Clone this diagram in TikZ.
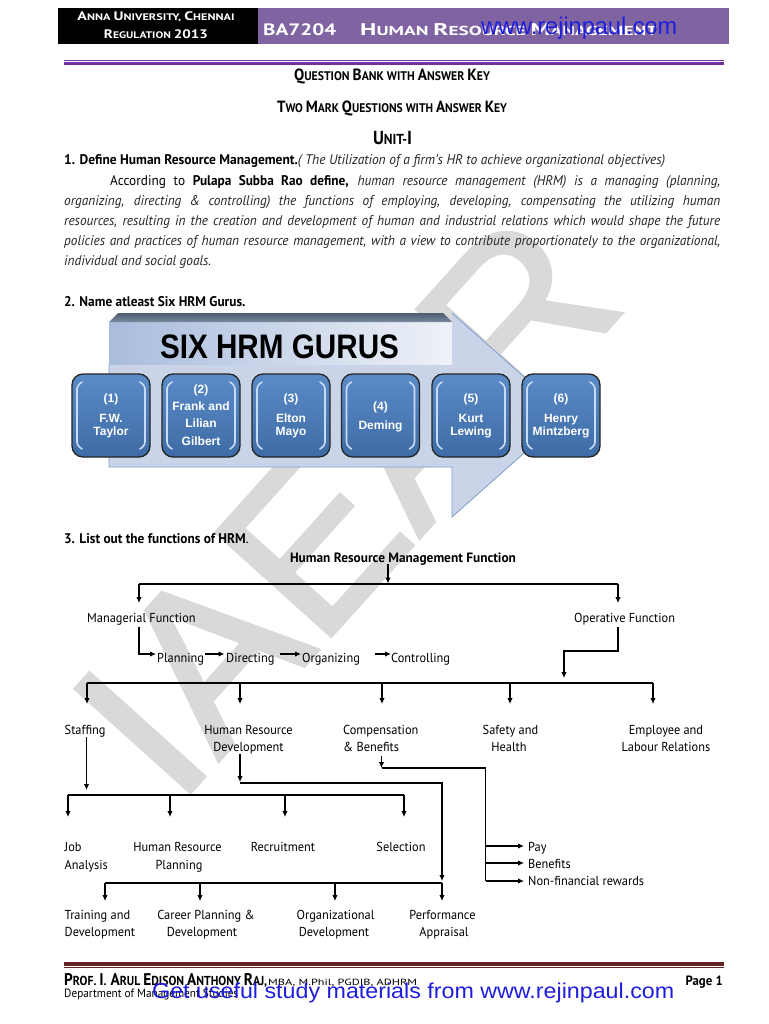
\documentclass[tikz,border=0pt]{standalone}
\usepackage{fontspec}
\usepackage{graphicx}
\setmainfont[FakeStretch=0.95]{PT Sans}
\newfontfamily\arialf{Liberation Sans}
\newfontfamily\wmf[FakeBold=1.6]{Liberation Sans}
\usetikzlibrary{arrows.meta}
\definecolor{hdrpurple}{HTML}{8064A2}
\definecolor{linepurple}{HTML}{7030A0}
\definecolor{footmaroon}{HTML}{632423}
\definecolor{wmgray}{HTML}{D9D9D9}
\definecolor{linkblue}{HTML}{1E1EDC}
\definecolor{arrowfill}{HTML}{C9D4E8}
\definecolor{arrowedge}{HTML}{7F9CCB}
\definecolor{bannerl}{HTML}{A9BCDC}
\definecolor{bannerr}{HTML}{EEF2F8}
\definecolor{bevelt}{HTML}{4E5C70}
\definecolor{bevelb}{HTML}{7A899E}
\definecolor{boxtop}{HTML}{5A8BC8}
\definecolor{boxbot}{HTML}{3E6BA5}
\definecolor{boxhl}{HTML}{C9DCF3}
\definecolor{italgray}{HTML}{262626}
\newcommand\fitw[2]{\resizebox{#1}{\height}{#2}}
\newcommand\BC[1]{\scalebox{1.3}{#1}}
\tikzset{
  txt/.style={inner sep=0pt, anchor=base west},
  txtc/.style={inner sep=0pt, anchor=base},
  body/.style={font=\fontsize{14}{14}\selectfont},
  dl/.style={inner sep=0pt, anchor=base west, font=\fontsize{13}{13}\selectfont},
  dlc/.style={inner sep=0pt, anchor=base, font=\fontsize{13}{13}\selectfont},
  conn/.style={line width=1.1pt, black},
  arr/.style={conn, -{Latex[length=6pt,width=5.5pt]}},
  gurubox/.style={draw=black!85, line width=1.3pt, rounded corners=11pt,
    minimum width=78pt, minimum height=83pt, top color=boxtop, bottom color=boxbot, inner sep=0pt},
  gtxt/.style={inner sep=0pt, anchor=base, text=white, font=\arialf\bfseries\fontsize{12}{12}\selectfont},
  hl/.style={boxhl, line width=1.6pt, rounded corners=3pt, line cap=round},
  wm/.style={inner sep=0pt, text=wmgray, font=\wmf\fontsize{225}{225}\selectfont},
}
\begin{document}
\begin{tikzpicture}[x=1pt,y=-1pt]
\useasboundingbox (0,0) rectangle (768,1024);
\fill[white] (0,0) rectangle (768,1024);

% watermark
\node[wm, rotate=48] (wmark) at (345,505) {IAEAR};

% header
\fill[black] (58,8) rectangle (258,44);
\fill[hdrpurple] (258,8) rectangle (729,44);
\node[txtc, text=white, font=\bfseries\fontsize{9.5}{9.5}\selectfont] (au) at (156,21)
  {\fitw{157pt}{\BC{A}NNA \BC{U}NIVERSITY, \BC{C}HENNAI}};
\node[txtc, text=white, font=\bfseries\fontsize{9.5}{9.5}\selectfont] (reg) at (156,39)
  {\fitw{104pt}{\BC{R}EGULATION \BC{2013}}};
\node[txt, text=white, font=\bfseries\fontsize{16.5}{16.5}\selectfont] (code) at (263,36)
  {\fitw{73pt}{BA7204}};
\node[txt, text=white, font=\bfseries\fontsize{13}{13}\selectfont] (hrmt) at (360,36)
  {\fitw{297pt}{\BC{H}UMAN \BC{R}ESOURCE \BC{M}ANAGEMENT}};
\node[txt, text=linkblue, font=\arialf\fontsize{24}{24}\selectfont] (link1) at (481,35)
  {\fitw{196pt}{www.rejinpaul.com}};
\fill[linepurple] (64,61.8) rectangle (724,65.5);
\draw[linepurple, line width=0.8pt] (64,60.2) -- (724,60.2);

% titles
\node[txtc, font=\bfseries\fontsize{12.5}{12.5}\selectfont] (t1) at (392,81)
  {\fitw{196pt}{\BC{Q}UESTION \BC{B}ANK WITH \BC{A}NSWER \BC{K}EY}};
\node[txtc, font=\bfseries\fontsize{12.5}{12.5}\selectfont] (t2) at (392,113)
  {\fitw{230pt}{\BC{T}WO \BC{M}ARK \BC{Q}UESTIONS WITH \BC{A}NSWER \BC{K}EY}};
\node[txtc, font=\bfseries\fontsize{14.5}{14.5}\selectfont] (t3) at (392.5,145)
  {\fitw{39pt}{\BC{U}NIT-\BC{I}}};

% question 1
\node[txt, body] (q1) at (64,164.5)
  {\fitw{601pt}{\textbf{1. Define Human Resource Management.}\textcolor{italgray}{\textit{( The Utilization of a firm's HR to achieve organizational objectives)}}}};
\node[txt, body] (p1) at (110,185.5)
  {\makebox[610pt][s]{According to \textbf{Pulapa Subba Rao define,} \textcolor{italgray}{\textit{human resource management (HRM) is a managing (planning,}}}};
\node[txt, body, text=italgray] (p2) at (64,205.5)
  {\makebox[656pt][s]{\textit{organizing, directing \& controlling) the functions of employing, developing, compensating the utilizing human}}};
\node[txt, body, text=italgray] (p3) at (64,225.3)
  {\makebox[656pt][s]{\textit{resources, resulting in the creation and development of human and industrial relations which would shape the future}}};
\node[txt, body, text=italgray] (p4) at (64,245.2)
  {\makebox[656pt][s]{\textit{policies and practices of human resource management, with a view to contribute proportionately to the organizational,}}};
\node[txt, body, text=italgray] (p5) at (64,265)
  {\textit{individual and social goals.}};

% question 2
\node[txt, body] (q2) at (64,306) {\textbf{2. Name atleast Six HRM Gurus.}};

% big arrow
\fill[arrowfill] (109,322) -- (452,322) -- (452,313) -- (567,415) -- (452,517) -- (452,467) -- (109,467) -- cycle;
\draw[arrowedge, line width=0.8pt] (452,313) -- (567,415) -- (452,517) -- (452,467) -- (109,467) -- (109,364);
\shade[left color=bannerl, right color=bannerr] (109,322) rectangle (452,364);
\shade[top color=bevelt, bottom color=bevelb] (109,322) -- (118,313) -- (443,313) -- (452,322) -- cycle;
\node[txtc, font=\arialf\bfseries\fontsize{34}{34}\selectfont] (six) at (279.5,358) {\fitw{239pt}{SIX HRM GURUS}};

\foreach \cx/\nm in {111/g1, 201/g2, 291/g3, 380.5/g4, 471/g5, 561/g6}{
  \node[gurubox] (\nm) at (\cx,415.5) {};
  \draw[hl] (\cx-29,382) -- (\cx-34,386) -- (\cx-34,445) -- (\cx-29,449);
  \draw[hl] (\cx+29,382) -- (\cx+34,386) -- (\cx+34,445) -- (\cx+29,449);
}
\node[gtxt] (g1a) at (111,402) {(1)};
\node[gtxt] (g1b) at (111,422.3) {F.W.};
\node[gtxt] (g1c) at (111,435.3) {Taylor};
\node[gtxt] (g2a) at (201,393) {(2)};
\node[gtxt] (g2b) at (201,410.3) {Frank and};
\node[gtxt] (g2c) at (201,427.8) {Lilian};
\node[gtxt] (g2d) at (201,445.8) {Gilbert};
\node[gtxt] (g3a) at (291,402) {(3)};
\node[gtxt] (g3b) at (291,422.3) {Elton};
\node[gtxt] (g3c) at (291,435.3) {Mayo};
\node[gtxt] (g4a) at (380.5,410.3) {(4)};
\node[gtxt] (g4b) at (380.5,429.3) {Deming};
\node[gtxt] (g5a) at (471,402) {(5)};
\node[gtxt] (g5b) at (471,422.3) {Kurt};
\node[gtxt] (g5c) at (471,435.3) {Lewing};
\node[gtxt] (g6a) at (561,402) {(6)};
\node[gtxt] (g6b) at (561,422.3) {Henry};
\node[gtxt] (g6c) at (561,435.3) {Mintzberg};

% question 3
\node[txt, body] (q3) at (64,543) {\textbf{3. List out the functions of HRM}.};
\node[txtc, font=\bfseries\fontsize{13.5}{13.5}\selectfont] (hrmf) at (403,562)
  {\fitw{226pt}{Human Resource Management Function}};

\node[dl] (mgr) at (87,622) {Managerial Function};
\node[dl] (opf) at (574,622) {Operative Function};
\node[dl] (plan) at (157,662) {Planning};
\node[dl] (dir) at (226,662) {Directing};
\node[dl] (org) at (302,662) {Organizing};
\node[dl] (ctl) at (391,662) {Controlling};

\node[dl] (stf) at (64.5,734) {Staffing};
\node[dlc] (hrd1) at (248.5,734) {Human Resource};
\node[dlc] (hrd2) at (248.5,751) {Development};
\node[dl] (cmp1) at (343,734) {Compensation};
\node[dl] (cmp2) at (343,751) {\& Benefits};
\node[dlc] (sfh1) at (510.5,734) {Safety and};
\node[dlc] (sfh2) at (509,751) {Health};
\node[dlc] (elr1) at (666,734) {Employee and};
\node[dlc] (elr2) at (666,751) {Labour Relations};

\node[dl] (job1) at (64.5,851) {Job};
\node[dl] (job2) at (64.5,869) {Analysis};
\node[dlc] (hrp1) at (177.5,851) {Human Resource};
\node[dlc] (hrp2) at (179,869) {Planning};
\node[dlc] (rec) at (283,851) {Recruitment};
\node[dlc] (sel) at (401,851) {Selection};

\node[dl] (trd1) at (64.5,919) {Training and};
\node[dl] (trd2) at (64.5,936) {Development};
\node[dlc] (cpd1) at (206,919) {Career Planning \&};
\node[dlc] (cpd2) at (202,936) {Development};
\node[dlc] (ord1) at (335.5,919) {Organizational};
\node[dlc] (ord2) at (334,936) {Development};
\node[dlc] (pfa1) at (442.5,919) {Performance};
\node[dlc] (pfa2) at (444,936) {Appraisal};

\node[dl] (pay) at (528,851) {Pay};
\node[dl] (ben) at (528,868) {Benefits};
\node[dl] (nfr) at (528,885) {Non-financial rewards};

% connectors: top level
\coordinate (a0) at (388,564);
\coordinate (a1) at (388,583.5);
\coordinate (aL) at (139,584);
\coordinate (aR) at (618,584);
\coordinate (aLd) at (139,603);
\coordinate (aRd) at (618,603);
\draw[arr] (a0) -- (a1);
\draw[conn] (aL) -- (aR);
\draw[arr] (aL) -- (aLd);
\draw[arr] (aR) -- (aRd);

% managerial chain
\coordinate (m0) at (139,627);
\coordinate (m1) at (139,654);
\coordinate (m2) at (156,654);
\coordinate (m3) at (205,654);
\coordinate (m4) at (224.5,654);
\coordinate (m5) at (280,654);
\coordinate (m6) at (301,654);
\coordinate (m7) at (375,654);
\coordinate (m8) at (391,654);
\draw[arr] (m0) -- (m1) -- (m2);
\draw[arr] (m3) -- (m4);
\draw[arr] (m5) -- (m6);
\draw[arr] (m7) -- (m8);

% operative
\coordinate (o0) at (618,627);
\coordinate (o1) at (618,651);
\coordinate (o2) at (564,651);
\coordinate (o3) at (564,678);
\draw[arr] (o0) -- (o1) -- (o2) -- (o3);
\coordinate (b0) at (87,683);
\coordinate (b4) at (653,683);
\draw[conn] (b0) -- (b4);
\foreach \bx/\bn in {87/d0, 240/d1, 382/d2, 510/d3, 653/d4}{
  \coordinate (\bn s) at (\bx,683);
  \coordinate (\bn e) at (\bx,704);
  \draw[arr] (\bn s) -- (\bn e);
}

% staffing
\coordinate (s0) at (86.5,737);
\coordinate (s1) at (86.5,790);
\draw[arr] (s0) -- (s1);
\coordinate (sL) at (68,795);
\coordinate (sR) at (404,795);
\draw[conn] (sL) -- (sR);
\foreach \bx/\bn in {68/e0, 170/e1, 285/e2, 404/e3}{
  \coordinate (\bn s) at (\bx,795);
  \coordinate (\bn e) at (\bx,817);
  \draw[arr] (\bn s) -- (\bn e);
}

% HRD
\coordinate (h0) at (240,754);
\coordinate (h1) at (240,782);
\coordinate (h2) at (240,783);
\coordinate (h3) at (442,783);
\coordinate (h4) at (442,881);
\draw[arr] (h0) -- (h1);
\draw[arr] (h2) -- (h3) -- (h4);
\coordinate (hL) at (105,883);
\coordinate (hR) at (442,883);
\draw[conn] (hL) -- (hR);
\foreach \bx/\bn in {105/f0, 200/f1, 335/f2, 442/f3}{
  \coordinate (\bn s) at (\bx,883);
  \coordinate (\bn e) at (\bx,901);
  \draw[arr] (\bn s) -- (\bn e);
}

% compensation
\coordinate (k0) at (381.5,756);
\coordinate (k1) at (381.5,768);
\coordinate (k2) at (485.5,768);
\coordinate (k3) at (485.5,881);
\draw[arr] (k0) -- (k1);
\draw[conn] (k1) -- (k2) -- (k3);
\coordinate (kp) at (485.5,846);
\coordinate (kb) at (485.5,863);
\coordinate (kn) at (485.5,881);
\coordinate (kpe) at (524,846);
\coordinate (kbe) at (524,863);
\coordinate (kne) at (524,881);
\draw[arr] (kp) -- (kpe);
\draw[arr] (kb) -- (kbe);
\draw[arr] (kn) -- (kne);

% footer
\fill[footmaroon] (64,961.7) rectangle (724,965.7);
\draw[footmaroon, line width=0.7pt] (64,967.3) -- (724,967.3);
\node[txt, font=\bfseries\fontsize{13}{13}\selectfont] (prof) at (64,985)
  {\fitw{203pt}{\BC{P}ROF. \BC{I}. \BC{A}RUL \BC{E}DISON \BC{A}NTHONY \BC{R}AJ,}};
\node[txt, font=\fontsize{9}{9}\selectfont] (quals) at (268,985)
  {\fitw{149pt}{MBA, M.Phil, PGDIB, ADHRM}};
\node[inner sep=0pt, anchor=base east, font=\bfseries\fontsize{13.5}{13.5}\selectfont] (page) at (723,985) {Page 1};
\node[txt, font=\fontsize{12}{12}\selectfont] (dept) at (64,997)
  {\fitw{174pt}{Department of Management Studies}};
\node[txt, text=linkblue, font=\arialf\fontsize{21.5}{21.5}\selectfont] (link2) at (152,998)
  {\fitw{522pt}{Get useful study materials from www.rejinpaul.com}};
\end{tikzpicture}
\end{document}
